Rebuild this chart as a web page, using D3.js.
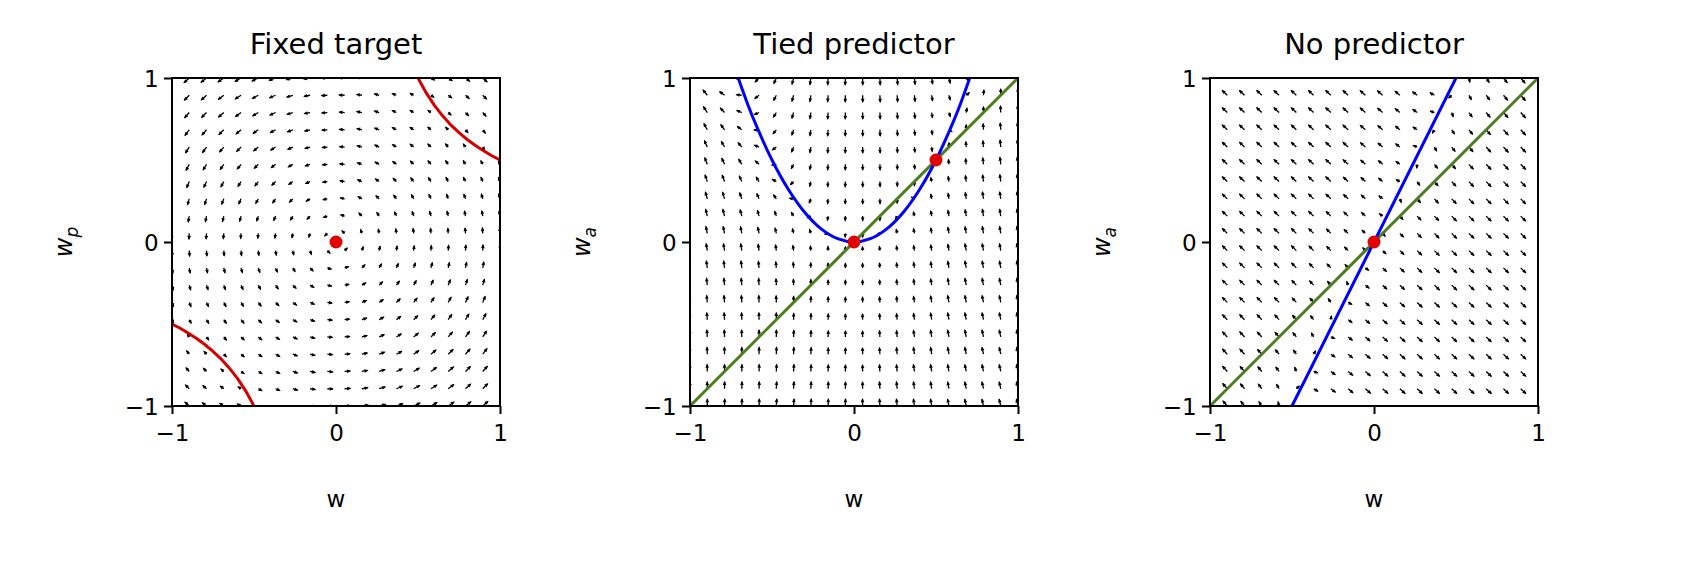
<!DOCTYPE html>
<html><head><meta charset="utf-8">
<script src="https://cdn.jsdelivr.net/npm/d3@7/dist/d3.min.js"></script>
<style>body{margin:0;background:#fff}</style></head>
<body><svg id="c" width="1693" height="568"></svg>
<script>
const titles = ["Fixed target", "Tied predictor", "No predictor"];
const yLabels = ["p", "a", "a"];
const ticks = [-1, 0, 1];
const gridN = 20;
// red hyperbola (fixed target), sampled
const hypX = [0.5,0.55,0.6,0.65,0.7,0.75,0.8,0.85,0.9,0.95,1.0];
const hypY = [1.0,0.909,0.833,0.769,0.714,0.667,0.625,0.588,0.556,0.526,0.5];
// blue parabola (tied predictor)
const parX = [-0.72,-0.65,-0.6,-0.5,-0.4,-0.3,-0.2,-0.1,0,0.1,0.2,0.3,0.4,0.5,0.6,0.65,0.72];
const parY = [1.04,0.845,0.72,0.5,0.32,0.18,0.08,0.02,0,0.02,0.08,0.18,0.32,0.5,0.72,0.845,1.04];
// blue line (no predictor)
const linX = [-0.5, 0.5];
const linY = [-1, 1];
const diagX = [-1, 1], diagY = [-1, 1];
const fixedPts = [[[0,0]], [[0,0],[0.5,0.5]], [[0,0]]];

const fields = [
  (w,p)=>[-p*(0.5-w*p), w*(0.5-w*p)],
  (w,a)=>[0.35*w*(a-w), 2*w*w-a],
  (w,a)=>[-(a-2*w)*0.7+0.2*(w-a), (a-2*w)*0.8]
];

const svg = d3.select("#c");
const lefts = [172, 690, 1210], T0 = 78, size = 328;
const grid = d3.range(gridN).map(i => -1 + 2*i/(gridN-1));

lefts.forEach((L, k) => {
  const x = d3.scaleLinear().domain([-1,1]).range([L, L+size]);
  const y = d3.scaleLinear().domain([-1,1]).range([T0+size, T0]);
  const g = svg.append("g");
  const clipId = "clip"+k;
  svg.append("clipPath").attr("id", clipId).append("rect")
    .attr("x", L).attr("y", T0).attr("width", size).attr("height", size);
  const pg = g.append("g").attr("clip-path", `url(#${clipId})`);
  grid.forEach(a => grid.forEach(b => {
    let [u, v] = fields[k](a, b);
    const m = Math.hypot(u, v) || 1e-9;
    const len = 3 + 4*Math.min(1, Math.sqrt(m));
    const dx = u/m*len, dy = -v/m*len;
    const cx = x(a), cy = y(b);
    const x1 = cx+dx, y1 = cy+dy;
    pg.append("line").attr("x1",cx).attr("y1",cy).attr("x2",x1).attr("y2",y1)
      .attr("stroke","#000").attr("stroke-width",1.3);
    const nx = -dy/len, ny = dx/len, ux = dx/len, uy = dy/len;
    const hl = 3.2, hw = 1.8;
    pg.append("path").attr("d",
      `M${x1+ux},${y1+uy}L${x1-ux*hl+nx*hw},${y1-uy*hl+ny*hw}L${x1-ux*hl-nx*hw},${y1-uy*hl-ny*hw}Z`)
      .attr("fill","#000");
  }));
  const line = d3.line().x(d=>x(d[0])).y(d=>y(d[1]));
  if (k === 0) {
    pg.append("path").attr("d", line(hypX.map((v,i)=>[v,hypY[i]]))).attr("fill","none").attr("stroke","#d40000").attr("stroke-width",3);
    pg.append("path").attr("d", line(hypX.map((v,i)=>[-v,-hypY[i]]))).attr("fill","none").attr("stroke","#d40000").attr("stroke-width",3);
  } else {
    pg.append("path").attr("d", line(diagX.map((v,i)=>[v,diagY[i]]))).attr("fill","none").attr("stroke","#4a7d1f").attr("stroke-width",3);
    const bx = k===1 ? parX : linX, by = k===1 ? parY : linY;
    pg.append("path").attr("d", d3.line().curve(d3.curveCatmullRom).x(d=>x(d[0])).y(d=>y(d[1]))(bx.map((v,i)=>[v,by[i]])))
      .attr("fill","none").attr("stroke","#0000ff").attr("stroke-width",3);
  }
  fixedPts[k].forEach(p => g.append("circle").attr("cx",x(p[0])).attr("cy",y(p[1])).attr("r",6.5).attr("fill","#e00000"));
  const xa = g.append("g").attr("transform",`translate(0,${T0+size})`)
    .call(d3.axisBottom(x).tickValues(ticks).tickSize(8).tickFormat(d=>d<0?"−1":d));
  const ya = g.append("g").attr("transform",`translate(${L},0)`)
    .call(d3.axisLeft(y).tickValues(ticks).tickSize(8).tickFormat(d=>d<0?"−1":d));
  [xa, ya].forEach(ax => {
    ax.selectAll("path").remove();
    ax.selectAll("line").attr("stroke","#000").attr("stroke-width",2);
    ax.selectAll("text").attr("font-family","DejaVu Sans").attr("font-size",23).attr("fill","#000");
  });
  xa.selectAll("text").attr("dy","1.05em");
  ya.selectAll("text").attr("dy","0.35em").attr("dx","-0.1em");
  g.append("rect").attr("x",L).attr("y",T0).attr("width",size).attr("height",size)
    .attr("fill","none").attr("stroke","#000").attr("stroke-width",2);
  g.append("text").attr("x",L+size/2).attr("y",54).attr("text-anchor","middle")
    .attr("font-family","DejaVu Sans").attr("font-size",29).text(titles[k]);
  g.append("text").attr("x",L+size/2).attr("y",507).attr("text-anchor","middle")
    .attr("font-family","DejaVu Sans").attr("font-size",23).text("w");
  const yl = g.append("text").attr("transform",`translate(${L-100},${T0+size/2}) rotate(-90)`)
    .attr("text-anchor","middle").attr("font-family","DejaVu Sans").attr("font-size",24).attr("font-style","italic");
  yl.append("tspan").text("w");
  yl.append("tspan").attr("font-size",17).attr("dy",6).text(yLabels[k]);
});
</script></body></html>
